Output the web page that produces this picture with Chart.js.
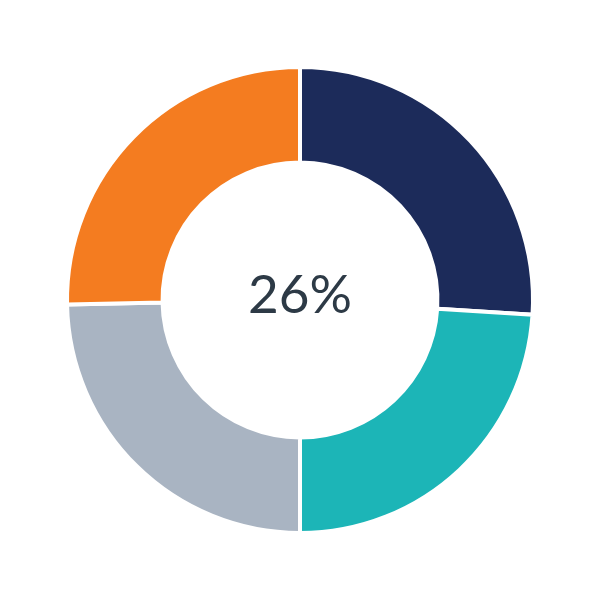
<!DOCTYPE html>
<html>
<head>
<meta charset="utf-8">
<script src="https://cdn.jsdelivr.net/npm/chart.js@4.4.0/dist/chart.umd.min.js"></script>
<style>
  html, body { margin: 0; padding: 0; background: #fff; }
  #wrap { width: 600px; height: 600px; }
</style>
</head>
<body>
<div id="wrap"><canvas id="donut" width="600" height="600"></canvas></div>
<script>
// segment values (percent of the ring)
const labels = ['A', 'B', 'C', 'D'];
const values = [26, 24, 24.7, 25.3];
const colors = ['#1c2b5a', '#1cb5b7', '#a9b4c2', '#f47c20'];
const centerLabel = '26%';

const centerText = {
    id: 'centerText',
    afterDraw(chart) {
        const ctx = chart.ctx;
        const meta = chart.getDatasetMeta(0).data[0];
        ctx.save();
        ctx.fillStyle = '#2d3a46';
        ctx.font = '400 53px Lato, "Open Sans", sans-serif';
        ctx.textAlign = 'center';
        ctx.textBaseline = 'middle';
        ctx.fillText(centerLabel, meta.x, meta.y - 4);
        ctx.restore();
    }
};

new Chart(document.getElementById('donut'), {
    type: 'doughnut',
    data: {
        labels: labels,
        datasets: [{
            data: values,
            backgroundColor: colors,
            borderColor: '#ffffff',
            borderWidth: 4,
            hoverOffset: 0
        }]
    },
    options: {
        responsive: false,
        animation: false,
        cutout: '59%',
        layout: { padding: 65 },
        plugins: {
            legend: { display: false },
            tooltip: { enabled: false }
        }
    },
    plugins: [centerText]
});
</script>
</body>
</html>
